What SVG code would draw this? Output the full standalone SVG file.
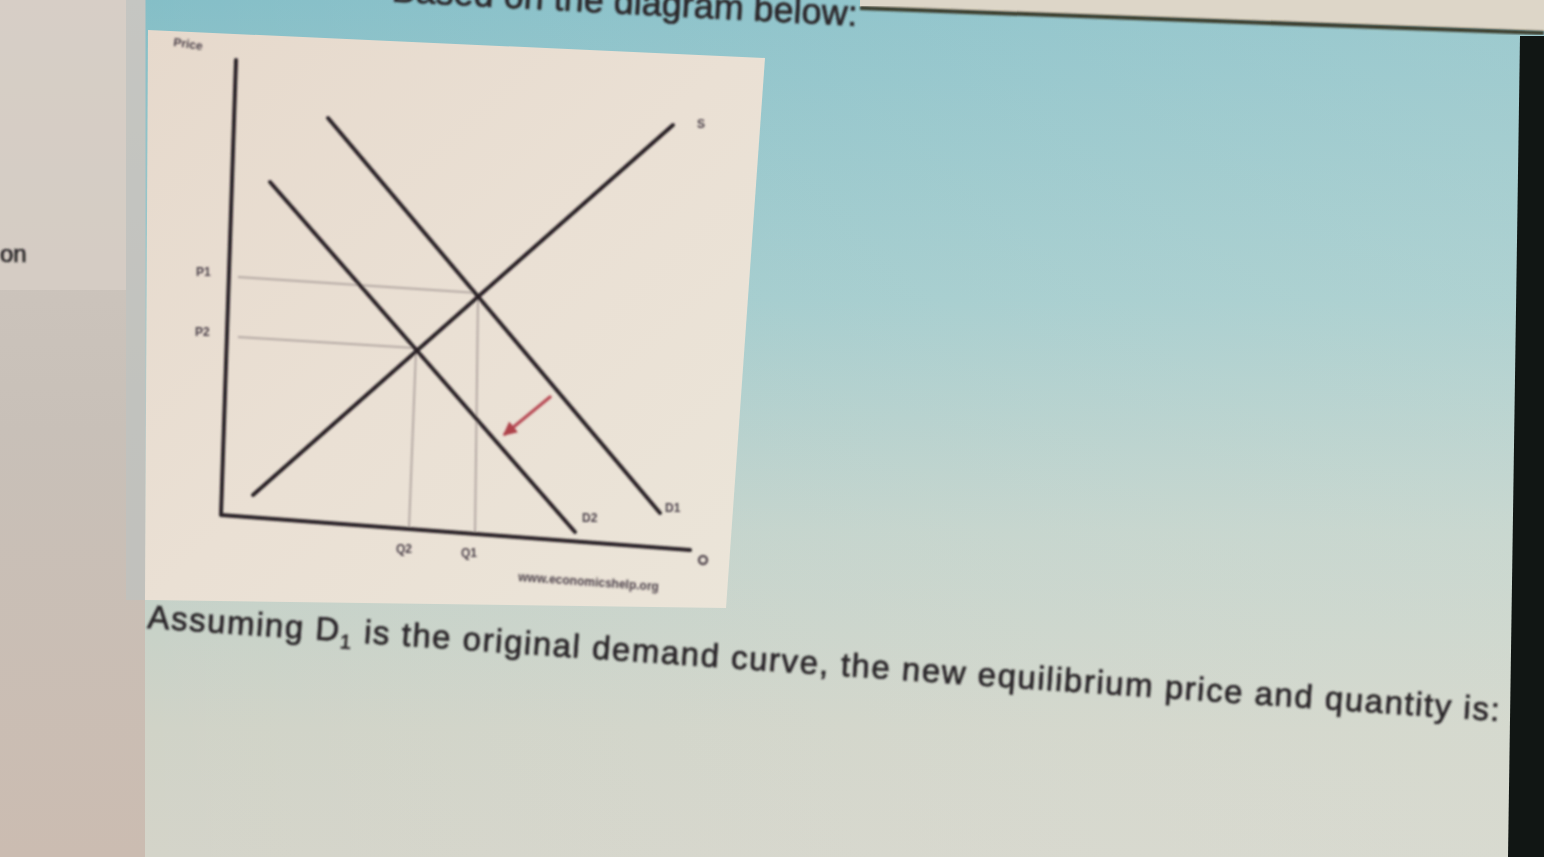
<svg xmlns="http://www.w3.org/2000/svg" width="1544" height="857" viewBox="0 0 1544 857">
  <defs>
    <linearGradient id="bg" x1="0" y1="0" x2="0" y2="1">
      <stop offset="0" stop-color="#82bdc6"/>
      <stop offset="0.35" stop-color="#9cc8ca"/>
      <stop offset="0.62" stop-color="#bfd0c8"/>
      <stop offset="0.85" stop-color="#cfd2c6"/>
      <stop offset="1" stop-color="#d3d3c8"/>
    </linearGradient>
    <linearGradient id="bgR" x1="0" y1="0" x2="1" y2="0">
      <stop offset="0" stop-color="#ffffff" stop-opacity="0"/>
      <stop offset="1" stop-color="#e8efe8" stop-opacity="0.25"/>
    </linearGradient>
    <linearGradient id="leftStrip" x1="0" y1="0" x2="0" y2="1">
      <stop offset="0" stop-color="#d2cac2"/>
      <stop offset="0.5" stop-color="#c8c0b8"/>
      <stop offset="1" stop-color="#cbbcb1"/>
    </linearGradient>
    <linearGradient id="panel" x1="0" y1="0" x2="1" y2="1">
      <stop offset="0" stop-color="#e6d9cc"/>
      <stop offset="0.5" stop-color="#eae0d4"/>
      <stop offset="1" stop-color="#ebe5d9"/>
    </linearGradient>
    <filter id="soft" x="-5%" y="-5%" width="110%" height="110%">
      <feGaussianBlur stdDeviation="0.9"/>
    </filter>
    <filter id="softer" x="-10%" y="-10%" width="120%" height="120%">
      <feGaussianBlur stdDeviation="1.3"/>
    </filter>
    <marker id="redHead" viewBox="0 0 10 10" refX="8" refY="5" markerWidth="4" markerHeight="4" orient="auto">
      <path d="M0,0 L10,5 L0,10 z" fill="#a8303c"/>
    </marker>
    <style>
      .curve { stroke: #2b2228; stroke-width: 4; fill: none; stroke-linecap: round; }
      .guide { stroke: #a89c98; stroke-width: 2; fill: none; opacity: 0.8; }
      .lbl { font-family: "Liberation Sans", Arial, sans-serif; font-weight: bold; font-size: 12px; fill: #4a3f48; }
      .body { font-family: "Liberation Sans", Arial, sans-serif; fill: #2a2629; stroke: #2a2629; stroke-width: 0.7; }
    </style>
  </defs>

  <g id="background">
    <rect x="0" y="0" width="1544" height="857" fill="url(#bg)"/>
    <rect x="0" y="0" width="1544" height="857" fill="url(#bgR)"/>
    <rect x="0" y="0" width="145" height="857" fill="url(#leftStrip)"/>
    <rect x="0" y="0" width="126" height="290" fill="#d8d0c7" opacity="0.7"/>
    <rect x="126" y="0" width="20" height="600" fill="#bcc3c2" opacity="0.6"/>
    <polygon points="860,0 1544,0 1544,31 860,7" fill="#ddd6c8"/>
    <line x1="860" y1="8" x2="1544" y2="33" stroke="#3a3a2c" stroke-width="4" filter="url(#soft)"/>
    <polygon points="1520,36 1544,36 1544,857 1508,857" fill="#111614"/>
  </g>

  <g id="top-text" filter="url(#soft)">
    <text class="body" x="857" y="26" font-size="36" text-anchor="end" transform="rotate(3 857 26)">Based on the diagram below:</text>
  </g>

  <g id="left-text" filter="url(#soft)">
    <text class="body" x="0" y="262" font-size="24">on</text>
  </g>

  <g id="chart">
    <polygon points="148,30 765,58 726,608 145,600" fill="url(#panel)"/>
    <g filter="url(#soft)">
      <line class="guide" x1="238" y1="277" x2="478" y2="293"/>
      <line class="guide" x1="238" y1="337" x2="415" y2="348"/>
      <line class="guide" x1="478" y1="297" x2="475" y2="534"/>
      <line class="guide" x1="416" y1="350" x2="409" y2="528"/>
      <polyline class="curve" points="236,60 221,515 690,550" stroke-linejoin="round"/>
      <circle cx="703" cy="560" r="4" fill="none" stroke="#5a4f55" stroke-width="2.5"/>
      <line class="curve" x1="253" y1="495" x2="673" y2="125"/>
      <line class="curve" x1="328" y1="118" x2="660" y2="513"/>
      <line class="curve" x1="270" y1="182" x2="575" y2="532"/>
      <line x1="550" y1="397" x2="505" y2="434" stroke="#b4404c" stroke-width="3.5" stroke-linecap="round" marker-end="url(#redHead)" opacity="0.9"/>
    </g>
    <g filter="url(#softer)">
      <text class="lbl" x="173" y="46" transform="rotate(8 173 46)">Price</text>
      <text class="lbl" x="697" y="128" font-size="13">S</text>
      <text class="lbl" x="196" y="276">P1</text>
      <text class="lbl" x="195" y="336">P2</text>
      <text class="lbl" x="396" y="553">Q2</text>
      <text class="lbl" x="461" y="557">Q1</text>
      <text class="lbl" x="582" y="522">D2</text>
      <text class="lbl" x="665" y="512">D1</text>
      <text class="lbl" x="518" y="581" font-size="7" font-weight="normal" transform="rotate(4 518 581)" fill="#6a5c62">www.economicshelp.org</text>
    </g>
  </g>

  <g id="question" filter="url(#soft)">
    <text class="body" x="147" y="628" font-size="33" transform="rotate(3.94 147 628)" textLength="1355" lengthAdjust="spacing">Assuming D<tspan font-size="20" dy="7">1</tspan><tspan dy="-7"> is the original demand curve, the new equilibrium price and quantity is:</tspan></text>
  </g>
</svg>
